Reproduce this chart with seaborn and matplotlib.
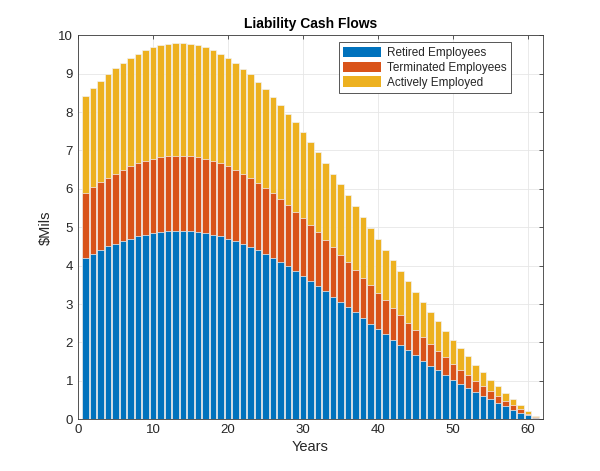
import numpy as np
import pandas as pd
import matplotlib
matplotlib.use("Agg")
import matplotlib.pyplot as plt
import seaborn as sns
from matplotlib.patches import Patch

years = list(range(1, 62))
retired = [4.20, 4.31, 4.41, 4.50, 4.57, 4.64, 4.70, 4.76, 4.80, 4.84,
           4.87, 4.90, 4.90, 4.90, 4.90, 4.88, 4.84, 4.81, 4.76, 4.70,
           4.64, 4.57, 4.49, 4.40, 4.30, 4.20, 4.10, 3.98, 3.86, 3.73,
           3.60, 3.47, 3.33, 3.19, 3.06, 2.92, 2.78, 2.63, 2.49, 2.35,
           2.21, 2.07, 1.93, 1.79, 1.66, 1.52, 1.39, 1.27, 1.15, 1.03,
           0.92, 0.81, 0.70, 0.61, 0.52, 0.43, 0.35, 0.25, 0.17, 0.10, 0.03]
terminated = [1.69, 1.74, 1.76, 1.79, 1.83, 1.85, 1.89, 1.91, 1.93, 1.94,
              1.95, 1.95, 1.96, 1.96, 1.95, 1.94, 1.95, 1.92, 1.91, 1.90,
              1.86, 1.83, 1.80, 1.76, 1.72, 1.69, 1.63, 1.59, 1.54, 1.50,
              1.45, 1.40, 1.35, 1.30, 1.23, 1.17, 1.11, 1.06, 1.00, 0.94,
              0.89, 0.83, 0.78, 0.72, 0.66, 0.62, 0.56, 0.51, 0.46, 0.42,
              0.37, 0.34, 0.30, 0.26, 0.21, 0.18, 0.13, 0.12, 0.09, 0.04, 0.02]
active = [2.53, 2.58, 2.64, 2.69, 2.74, 2.80, 2.83, 2.85, 2.89, 2.92,
          2.93, 2.93, 2.95, 2.95, 2.93, 2.94, 2.91, 2.89, 2.85, 2.82,
          2.79, 2.73, 2.69, 2.63, 2.59, 2.51, 2.46, 2.39, 2.33, 2.24,
          2.16, 2.08, 2.00, 1.91, 1.83, 1.75, 1.67, 1.58, 1.49, 1.41,
          1.31, 1.24, 1.15, 1.08, 1.00, 0.92, 0.85, 0.77, 0.70, 0.62,
          0.57, 0.49, 0.42, 0.35, 0.30, 0.25, 0.21, 0.15, 0.10, 0.07, 0.03]
series_names = ["Retired Employees", "Terminated Employees", "Actively Employed"]
colors = ["#0072BD", "#D95319", "#EDB120"]

df = pd.DataFrame({"Year": years, "Retired": retired,
                   "Terminated": terminated, "Active": active})
df["lvl1"] = df["Retired"]
df["lvl2"] = df["Retired"] + df["Terminated"]
df["lvl3"] = df["lvl2"] + df["Active"]

sns.set_style("white")
plt.rcParams["font.family"] = ["Liberation Sans", "DejaVu Sans"]
txt = "#262626"

fig = plt.figure(figsize=(6.0, 4.71), dpi=100)
ax = fig.add_axes([0.13, 0.11, 0.775, 0.815])

for col, c in zip(["lvl3", "lvl2", "lvl1"], colors[::-1]):
    sns.barplot(data=df, x="Year", y=col, native_scale=True, color=c,
                width=0.85, errorbar=None, saturation=1,
                edgecolor="#f2f2f2", linewidth=0.5, ax=ax)

ax.set_xlim(0, 62)
ax.set_ylim(0, 10)
ax.set_xticks(range(0, 61, 10))
ax.set_yticks(range(0, 11))
ax.grid(True, color="#e6e6e6", linewidth=0.6)
ax.set_axisbelow(True)
for s in ax.spines.values():
    s.set_color("#3a3a3a")
    s.set_linewidth(0.6)
ax.tick_params(direction="in", length=3, width=0.6, colors="#3a3a3a",
               labelsize=9.5, top=True, right=True, labelcolor=txt)
ax.set_xlabel("Years", fontsize=10.5, color=txt, labelpad=3)
ax.set_ylabel(r"\$Mils", fontsize=10.5, color=txt, labelpad=4)
ax.set_title("Liability Cash Flows", fontsize=10, fontweight="bold",
             color="black", pad=5)

handles = [Patch(facecolor=c, edgecolor="none") for c in colors]
leg = ax.legend(handles, series_names, loc="upper right",
                bbox_to_anchor=(0.931, 0.982), fontsize=8.5,
                frameon=True, fancybox=False, framealpha=1,
                edgecolor="#3a3a3a", handlelength=3.2, handleheight=0.95,
                borderpad=0.4, labelspacing=0.22, handletextpad=0.45,
                borderaxespad=0)
leg.get_frame().set_linewidth(0.6)
for t in leg.get_texts():
    t.set_color(txt)

fig.savefig("out.png", dpi=100)
